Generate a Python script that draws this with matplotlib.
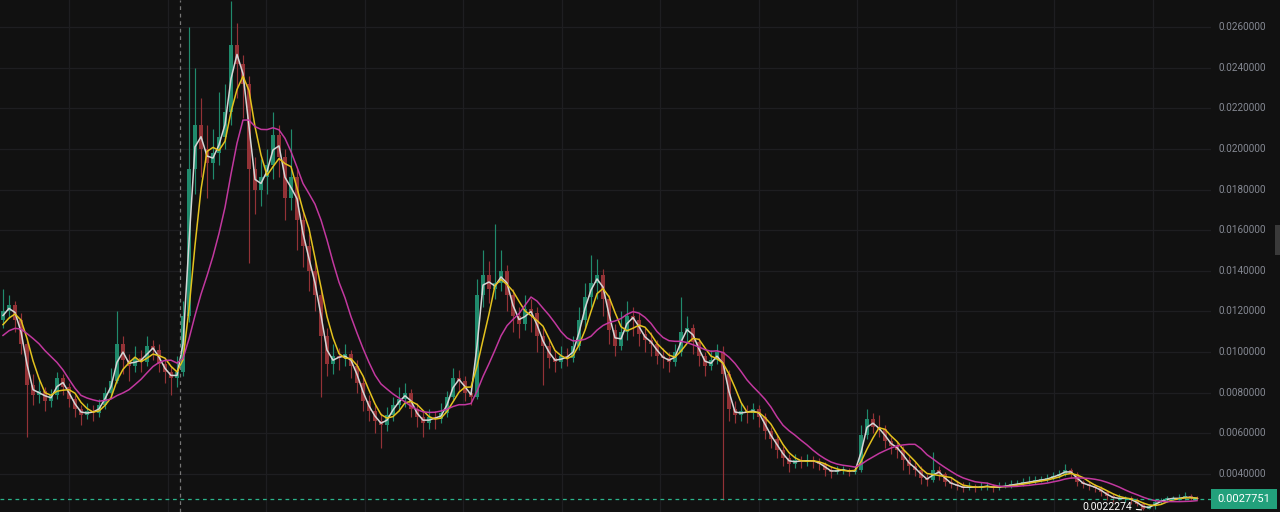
import matplotlib
matplotlib.use("Agg")
import matplotlib.pyplot as plt
from matplotlib.patches import Rectangle
import numpy as np
import pandas as pd

# closes before the visible window (only used to seed the moving averages)
prior_close = [0.0100, 0.0104, 0.0108, 0.0106, 0.0103, 0.0107, 0.0110, 0.0108, 0.0116]

close = [
    0.0120, 0.0123, 0.0116, 0.0104, 0.0084, 0.0079, 0.0081, 0.0076, 0.0079, 0.0087,
    0.0083, 0.0077, 0.0072, 0.0069, 0.0071, 0.0070, 0.0074, 0.0080, 0.0086, 0.0104,
    0.0096, 0.0093, 0.0097, 0.0095, 0.0103, 0.0101, 0.0094, 0.0090, 0.0087, 0.0090,
    0.0118, 0.0190, 0.0212, 0.0200, 0.0193, 0.0198, 0.0206, 0.0218, 0.0251, 0.0242,
    0.0232, 0.0190, 0.0180, 0.0186, 0.0192, 0.0207, 0.0196, 0.0176, 0.0186, 0.0165,
    0.0152, 0.0140, 0.0128, 0.0108, 0.0094, 0.0098, 0.0097, 0.0099, 0.0093, 0.0085,
    0.0076, 0.0071, 0.0066, 0.0064, 0.0069, 0.0074, 0.0077, 0.0080, 0.0072, 0.0068,
    0.0065, 0.0068, 0.0067, 0.0070, 0.0078, 0.0087, 0.0086, 0.0080, 0.0078, 0.0128,
    0.0138, 0.0131, 0.0134, 0.0140, 0.0128, 0.0118, 0.0114, 0.0121, 0.0119, 0.0108,
    0.0103, 0.0097, 0.0095, 0.0098, 0.0097, 0.0103, 0.0116, 0.0127, 0.0134, 0.0138,
    0.0126, 0.0111, 0.0103, 0.0110, 0.0118, 0.0116, 0.0109, 0.0106, 0.0104, 0.0098,
    0.0097, 0.0095, 0.0100, 0.0110, 0.0112, 0.0105, 0.0098, 0.0093, 0.0096, 0.0100,
    0.0089, 0.0072, 0.0069, 0.0071, 0.0070, 0.0072, 0.0068, 0.0061, 0.0057, 0.0052,
    0.0048, 0.0045, 0.0047, 0.0046, 0.0047, 0.0046, 0.0045, 0.0042, 0.0041, 0.0042,
    0.0042, 0.0041, 0.0042, 0.0059, 0.0067, 0.0063, 0.0062, 0.0056, 0.0054, 0.0052,
    0.0047, 0.0044, 0.0042, 0.0038, 0.0037, 0.0042, 0.0040, 0.0036, 0.0035, 0.0034,
    0.0033, 0.0034, 0.0033, 0.0034, 0.0034, 0.0033, 0.0034, 0.0034, 0.0035, 0.0035,
    0.0036, 0.0036, 0.0037, 0.0037, 0.0038, 0.0039, 0.0040, 0.0042, 0.0040, 0.0036,
    0.0035, 0.0034, 0.0033, 0.0031, 0.0029, 0.0028, 0.0028, 0.0028, 0.0027, 0.0025,
    0.0023, 0.0024, 0.0026, 0.0027, 0.0028, 0.0028, 0.0028, 0.0029, 0.0028, 0.0027751,
]

high = [
    0.0131, 0.0128, 0.0125, 0.0119, 0.0107, 0.0089, 0.0087, 0.0083, 0.0082, 0.0090,
    0.0089, 0.0085, 0.0079, 0.0074, 0.0075, 0.0074, 0.0077, 0.0083, 0.0092, 0.0120,
    0.0108, 0.0099, 0.0103, 0.0101, 0.0108, 0.0106, 0.0104, 0.0097, 0.0093, 0.0098,
    0.0125, 0.0260, 0.0240, 0.0225, 0.0212, 0.0210, 0.0228, 0.0232, 0.0273, 0.0262,
    0.0246, 0.0236, 0.0196, 0.0195, 0.0200, 0.0218, 0.0212, 0.0200, 0.0210, 0.0190,
    0.0170, 0.0158, 0.0145, 0.0132, 0.0112, 0.0104, 0.0102, 0.0104, 0.0101, 0.0096,
    0.0088, 0.0079, 0.0074, 0.0070, 0.0073, 0.0078, 0.0083, 0.0085, 0.0082, 0.0075,
    0.0071, 0.0072, 0.0071, 0.0075, 0.0081, 0.0092, 0.0091, 0.0088, 0.0083, 0.0136,
    0.0150, 0.0145, 0.0163, 0.0150, 0.0143, 0.0131, 0.0122, 0.0128, 0.0126, 0.0122,
    0.0112, 0.0106, 0.0101, 0.0103, 0.0102, 0.0108, 0.0122, 0.0134, 0.0148, 0.0146,
    0.0141, 0.0128, 0.0114, 0.0120, 0.0125, 0.0122, 0.0119, 0.0112, 0.0110, 0.0106,
    0.0102, 0.0100, 0.0104, 0.0127, 0.0118, 0.0114, 0.0107, 0.0100, 0.0101, 0.0104,
    0.0103, 0.0091, 0.0076, 0.0075, 0.0074, 0.0075, 0.0074, 0.0070, 0.0063, 0.0059,
    0.0054, 0.0050, 0.0050, 0.0049, 0.0050, 0.0049, 0.0048, 0.0046, 0.0044, 0.0044,
    0.0044, 0.0043, 0.0044, 0.0064, 0.0072, 0.0070, 0.0069, 0.0064, 0.0058, 0.0056,
    0.0054, 0.0049, 0.0046, 0.0044, 0.0040, 0.0051, 0.0044, 0.0041, 0.0038, 0.0037,
    0.0036, 0.0036, 0.0035, 0.0036, 0.0036, 0.0035, 0.0036, 0.0036, 0.0037, 0.0037,
    0.0038, 0.0039, 0.0039, 0.0039, 0.0040, 0.0041, 0.0042, 0.0045, 0.0043, 0.0041,
    0.0037, 0.0036, 0.0035, 0.0034, 0.0032, 0.0030, 0.0030, 0.0029, 0.0029, 0.0028,
    0.0026, 0.0025, 0.0027, 0.0028, 0.0029, 0.0029, 0.0030, 0.0031, 0.0030, 0.0029,
]

low = [
    0.0112, 0.0117, 0.0110, 0.0099, 0.0058, 0.0074, 0.0075, 0.0071, 0.0073, 0.0077,
    0.0079, 0.0073, 0.0068, 0.0064, 0.0067, 0.0066, 0.0068, 0.0072, 0.0078, 0.0085,
    0.0089, 0.0086, 0.0090, 0.0090, 0.0093, 0.0096, 0.0090, 0.0085, 0.0079, 0.0083,
    0.0088, 0.0115, 0.0178, 0.0186, 0.0176, 0.0185, 0.0192, 0.0200, 0.0212, 0.0225,
    0.0215, 0.0144, 0.0168, 0.0172, 0.0178, 0.0185, 0.0186, 0.0165, 0.0170, 0.0150,
    0.0142, 0.0130, 0.0120, 0.0078, 0.0088, 0.0089, 0.0091, 0.0093, 0.0087, 0.0080,
    0.0071, 0.0066, 0.0060, 0.0053, 0.0061, 0.0066, 0.0071, 0.0073, 0.0068, 0.0063,
    0.0058, 0.0062, 0.0062, 0.0065, 0.0068, 0.0076, 0.0081, 0.0076, 0.0074, 0.0077,
    0.0122, 0.0124, 0.0126, 0.0130, 0.0120, 0.0110, 0.0107, 0.0111, 0.0110, 0.0100,
    0.0084, 0.0092, 0.0090, 0.0092, 0.0093, 0.0095, 0.0101, 0.0112, 0.0122, 0.0126,
    0.0118, 0.0104, 0.0098, 0.0101, 0.0106, 0.0108, 0.0103, 0.0100, 0.0098, 0.0094,
    0.0092, 0.0090, 0.0093, 0.0098, 0.0105, 0.0099, 0.0093, 0.0088, 0.0091, 0.0094,
    0.0027, 0.0066, 0.0065, 0.0066, 0.0065, 0.0067, 0.0063, 0.0057, 0.0053, 0.0048,
    0.0044, 0.0041, 0.0043, 0.0043, 0.0044, 0.0043, 0.0042, 0.0039, 0.0038, 0.0040,
    0.0040, 0.0039, 0.0040, 0.0041, 0.0057, 0.0060, 0.0058, 0.0053, 0.0050, 0.0048,
    0.0042, 0.0040, 0.0039, 0.0035, 0.0034, 0.0036, 0.0037, 0.0034, 0.0033, 0.0032,
    0.0031, 0.0032, 0.0031, 0.0032, 0.0032, 0.0031, 0.0032, 0.0033, 0.0033, 0.0034,
    0.0034, 0.0035, 0.0035, 0.0036, 0.0036, 0.0037, 0.0038, 0.0039, 0.0038, 0.0034,
    0.0033, 0.0032, 0.0031, 0.0029, 0.0027, 0.0026, 0.0027, 0.0026, 0.0025, 0.0024,
    0.0022274, 0.00228, 0.0023, 0.0025, 0.0026, 0.0027, 0.0027, 0.0027, 0.0027, 0.0027,
]

price_ticks = [0.004, 0.006, 0.008, 0.010, 0.012, 0.014, 0.016, 0.018, 0.020, 0.022, 0.024, 0.026]
last_price = 0.0027751
min_price = 0.0022274
ma_windows = [2, 4, 10]
ma_colors = ['#d6d6d6', '#e3c21e', '#c2389f']

BG = '#111111'
GRID = '#1e1e21'
UP = '#208a6c'
DOWN = '#933236'

allc = pd.Series(prior_close + close)
n_prior = len(prior_close)
opens = np.array([prior_close[-1]] + close[:-1])
closes = np.array(close)
x = np.arange(len(close))

W, H = 1280, 512
fig = plt.figure(figsize=(12.8, 5.12), dpi=100, facecolor=BG)
ax = fig.add_axes([0, 0, 1211 / W, 1])
ax.set_facecolor(BG)

up = closes >= opens
cols = np.where(up, UP, DOWN)
ax.vlines(x, low, high, colors=cols, linewidth=0.85, zorder=2)
body_low = np.minimum(opens, closes)
body_h = np.maximum(np.abs(closes - opens), 0.00003)
ax.bar(x, body_h, bottom=body_low, width=0.58, color=cols, linewidth=0, zorder=2)

for w, c in zip(ma_windows, ma_colors):
    ma = allc.rolling(w, min_periods=1).mean().values[n_prior:]
    ax.plot(x, ma, color=c, linewidth=1.1, zorder=3)

xmax = -0.5 + 1211 / 6
ax.set_xlim(-0.5, xmax)
ax.set_ylim(0.002129, 0.027329)

# grid
for t in price_ticks:
    ax.axhline(t, color=GRID, linewidth=0.9, zorder=0)
for gx in np.arange(11.0, xmax, 16.42):
    ax.axvline(gx, color=GRID, linewidth=0.9, zorder=0)

# crosshair & last price line
ax.axvline(29.5, color='#777777', linewidth=0.9, linestyle=(0, (3, 3)), zorder=4)
ax.axhline(last_price, color='#2bb38a', linewidth=0.9, linestyle=(0, (3, 3)), zorder=4)

ax.set_xticks([])
ax.set_yticks([])
for s in ax.spines.values():
    s.set_visible(False)

# right price scale labels
for t in price_ticks:
    ax.text(1.006, t, f'{t:.7f}', transform=ax.get_yaxis_transform(), color='#858993',
            fontsize=7.2, family='Roboto', va='center', ha='left', clip_on=False)

# last price tag
fig.patches.append(Rectangle((1211 / W, 1 - 509 / H), 66 / W, 20 / H,
                             transform=fig.transFigure, facecolor='#22a07b', edgecolor='none'))
ax.plot([1.0005, 1.004], [last_price, last_price], color='white', linewidth=0.8,
        transform=ax.get_yaxis_transform(), clip_on=False)
fig.text(1217 / W, 1 - 499.5 / H, f'{last_price:.7f}', color='white', fontsize=8,
         family='Roboto', va='center', ha='left')

# min marker
imin = int(np.argmin(low))
ax.annotate(f'{min_price:.7f}', xy=(imin, min_price), xytext=(imin - 1.8, 0.00238),
            color='white', fontsize=7.6, family='Roboto', va='center', ha='right',
            arrowprops=dict(arrowstyle='-', color='white', linewidth=0.8,
                            shrinkA=1, shrinkB=1))

# small tab on right edge
fig.patches.append(Rectangle((1275 / W, 1 - 255 / H), 5 / W, 30 / H,
                             transform=fig.transFigure, facecolor='#3a3a3a', edgecolor='none'))

fig.savefig('out.png', dpi=100, facecolor=BG)
